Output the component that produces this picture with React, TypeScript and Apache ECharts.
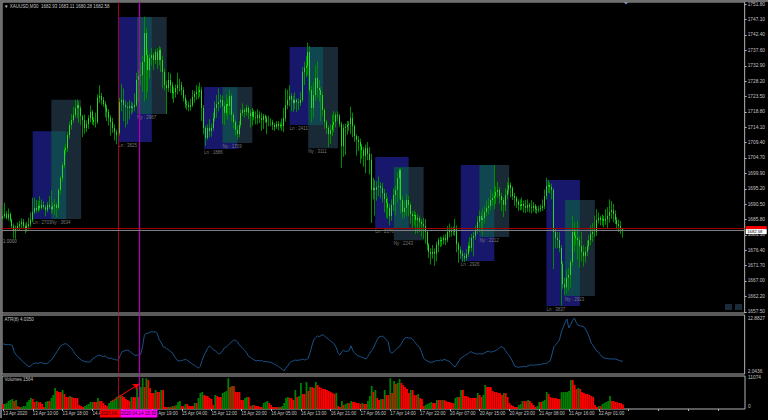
import { useEffect, useRef } from "react";
import * as echarts from "echarts";

const BAR_SLOTS = 399;

// [open, close, low, high], one row per 16 bars of the M30 chart
const candles: number[][] = [
  [1686.0,1686.9,1685.2,1689.9],[1686.9,1687.5,1686.2,1691.0],[1687.5,1686.3,1685.8,1688.4],[1686.3,1687.5,1685.5,1689.2],[1687.5,1685.7,1685.0,1688.0],[1685.7,1683.8,1683.0,1686.1],[1683.8,1682.3,1680.0,1684.6],[1682.3,1683.2,1679.9,1684.0],[1683.2,1683.8,1682.4,1684.9],[1683.8,1684.4,1682.6,1685.4],[1684.4,1685.1,1683.0,1686.2],[1685.1,1683.8,1682.9,1686.0],[1683.8,1682.9,1681.6,1684.6],[1682.9,1683.8,1682.1,1685.1],[1683.8,1684.4,1682.8,1686.4],[1684.4,1685.7,1683.6,1688.0],
  [1685.7,1688.1,1685.0,1692.5],[1688.1,1689.4,1687.5,1692.5],[1689.4,1688.7,1687.9,1691.8],[1688.7,1690.0,1688.0,1691.5],[1690.0,1689.4,1688.6,1693.0],[1689.4,1690.3,1688.8,1692.0],[1690.3,1689.6,1689.0,1691.4],[1689.6,1688.7,1686.8,1690.3],[1688.7,1690.3,1688.0,1691.2],[1690.3,1689.6,1689.0,1693.0],[1689.6,1689.0,1687.6,1694.8],[1689.0,1690.0,1688.0,1691.2],[1690.0,1690.3,1687.2,1692.1],[1690.3,1689.4,1686.5,1691.0],[1689.4,1694.9,1688.9,1695.5],[1694.9,1698.5,1693.6,1699.2],
  [1698.5,1702.5,1697.4,1703.3],[1702.5,1707.1,1701.6,1708.2],[1707.1,1707.7,1705.7,1709.1],[1707.7,1711.7,1706.5,1712.6],[1711.7,1714.8,1710.6,1715.9],[1714.8,1716.3,1713.4,1718.1],[1716.3,1717.9,1715.5,1720.4],[1717.9,1720.0,1717.0,1722.5],[1720.0,1720.9,1716.9,1722.6],[1720.9,1720.0,1715.4,1722.0],[1720.0,1717.5,1714.8,1720.6],[1717.5,1716.3,1711.1,1717.9],[1716.3,1713.9,1712.1,1718.0],[1713.9,1715.1,1712.6,1716.2],[1715.1,1716.9,1713.6,1717.8],[1716.9,1718.8,1715.6,1720.8],
  [1718.8,1716.3,1714.9,1719.4],[1716.3,1715.7,1714.6,1717.2],[1715.7,1715.7,1714.0,1718.6],[1715.7,1723.1,1715.1,1724.2],[1723.1,1723.7,1721.6,1727.0],[1723.7,1722.5,1721.0,1724.6],[1722.5,1721.2,1720.4,1723.4],[1721.2,1720.0,1717.2,1722.1],[1720.0,1718.8,1716.0,1721.0],[1718.8,1717.0,1714.6,1719.6],[1717.0,1715.7,1711.6,1717.8],[1715.7,1713.9,1712.4,1717.0],[1713.9,1712.6,1710.0,1715.0],[1712.6,1711.7,1708.9,1713.4],[1711.7,1712.3,1709.4,1714.6],[1712.3,1721.8,1711.6,1723.1],
  [1721.8,1722.5,1719.0,1727.4],[1722.5,1720.9,1716.0,1726.0],[1720.9,1720.3,1714.0,1722.4],[1720.3,1720.0,1715.0,1721.8],[1720.0,1720.6,1716.5,1722.5],[1720.6,1720.0,1718.0,1722.0],[1720.0,1720.3,1718.6,1721.6],[1720.3,1720.9,1719.0,1724.5],[1720.9,1728.6,1720.3,1730.8],[1728.6,1729.8,1722.0,1731.6],[1729.8,1730.1,1727.0,1734.0],[1730.1,1734.1,1725.0,1736.0],[1734.1,1743.0,1722.0,1748.0],[1743.0,1736.2,1723.0,1744.5],[1736.2,1731.6,1725.0,1738.0],[1731.6,1735.3,1729.0,1736.5],
  [1735.3,1736.2,1733.0,1738.4],[1736.2,1734.7,1731.6,1737.0],[1734.7,1737.2,1733.5,1738.0],[1737.2,1734.7,1732.0,1738.4],[1734.7,1737.8,1733.0,1739.0],[1737.8,1734.7,1731.0,1738.6],[1734.7,1731.0,1726.0,1736.0],[1731.0,1727.0,1725.4,1732.0],[1727.0,1726.1,1718.2,1728.4],[1726.1,1728.6,1725.0,1731.0],[1728.6,1727.0,1724.6,1730.6],[1727.0,1724.6,1722.8,1728.0],[1724.6,1724.9,1721.6,1726.4],[1724.9,1726.1,1723.2,1727.2],[1726.1,1727.0,1724.2,1730.8],[1727.0,1727.0,1725.0,1729.0],
  [1727.0,1725.5,1724.0,1728.0],[1725.5,1723.1,1722.0,1726.4],[1723.1,1721.2,1720.0,1724.0],[1721.2,1720.9,1719.4,1722.5],[1720.9,1720.3,1719.0,1722.0],[1720.3,1720.9,1719.2,1722.8],[1720.9,1723.4,1720.3,1725.5],[1723.4,1724.3,1721.6,1725.2],[1724.3,1724.9,1722.5,1727.0],[1724.9,1724.9,1722.8,1726.6],[1724.9,1725.5,1723.4,1727.8],[1725.5,1720.0,1716.0,1726.4],[1720.0,1713.9,1712.0,1720.9],[1713.9,1710.8,1708.4,1714.6],[1710.8,1713.9,1710.2,1715.0],[1713.9,1712.9,1711.0,1716.6],
  [1712.9,1713.9,1711.2,1715.2],[1713.9,1716.9,1713.0,1718.6],[1716.9,1720.0,1716.0,1722.0],[1720.0,1721.2,1717.0,1724.0],[1721.2,1721.8,1719.0,1726.0],[1721.8,1722.5,1720.0,1724.2],[1722.5,1720.6,1715.0,1723.8],[1720.6,1718.5,1714.8,1722.0],[1718.5,1721.2,1717.6,1724.0],[1721.2,1720.6,1716.4,1722.8],[1720.6,1723.7,1718.0,1725.6],[1723.7,1717.9,1715.8,1724.4],[1717.9,1715.7,1713.8,1718.6],[1715.7,1713.3,1711.6,1716.4],[1713.3,1712.0,1710.4,1714.6],[1712.0,1714.8,1711.0,1716.0],
  [1714.8,1718.5,1714.0,1719.6],[1718.5,1719.4,1717.6,1721.4],[1719.4,1718.8,1717.0,1720.0],[1718.8,1720.0,1717.6,1721.0],[1720.0,1718.5,1716.6,1720.6],[1718.5,1717.5,1714.0,1719.6],[1717.5,1718.8,1714.6,1720.0],[1718.8,1717.2,1716.2,1719.4],[1717.2,1716.9,1715.0,1719.0],[1716.9,1717.9,1715.0,1719.6],[1717.9,1716.9,1715.4,1719.0],[1716.9,1716.3,1713.0,1718.6],[1716.3,1717.5,1713.6,1718.2],[1717.5,1716.9,1715.4,1718.0],[1716.9,1715.7,1712.0,1717.6],[1715.7,1715.7,1714.4,1717.6],
  [1715.7,1715.7,1714.4,1716.8],[1715.7,1714.8,1713.2,1716.4],[1714.8,1714.2,1713.0,1715.4],[1714.2,1715.1,1713.6,1716.0],[1715.1,1714.5,1713.2,1716.0],[1714.5,1714.8,1713.8,1715.6],[1714.8,1714.5,1713.0,1716.8],[1714.5,1716.9,1712.6,1720.0],[1716.9,1720.9,1715.8,1726.0],[1720.9,1722.5,1719.6,1725.6],[1722.5,1723.7,1720.6,1727.0],[1723.7,1722.5,1719.0,1724.6],[1722.5,1721.5,1718.8,1723.8],[1721.5,1722.5,1719.6,1724.8],[1722.5,1721.8,1718.8,1723.0],[1721.8,1721.5,1719.4,1723.0],
  [1721.5,1722.5,1720.6,1725.0],[1722.5,1731.0,1721.8,1732.6],[1731.0,1732.3,1727.0,1734.2],[1732.3,1732.9,1729.4,1736.0],[1732.9,1737.2,1730.0,1740.0],[1737.2,1725.5,1724.6,1739.0],[1725.5,1720.0,1715.6,1726.8],[1720.0,1724.0,1717.0,1728.0],[1724.0,1729.2,1722.2,1733.0],[1729.2,1726.1,1723.2,1734.4],[1726.1,1725.5,1722.0,1728.6],[1725.5,1724.0,1716.0,1726.4],[1724.0,1719.4,1717.6,1724.8],[1719.4,1715.7,1713.6,1720.0],[1715.7,1713.9,1712.0,1716.4],[1713.9,1712.0,1708.0,1714.6],
  [1712.0,1713.3,1709.0,1715.0],[1713.3,1714.8,1711.4,1718.0],[1714.8,1715.7,1712.6,1719.0],[1715.7,1717.9,1714.0,1718.6],[1717.9,1717.5,1716.0,1719.0],[1717.5,1715.1,1714.2,1718.2],[1715.1,1708.3,1701.6,1715.8],[1708.3,1713.9,1705.0,1715.0],[1713.9,1714.2,1705.6,1715.2],[1714.2,1714.8,1711.8,1716.0],[1714.8,1715.1,1713.0,1716.0],[1715.1,1716.9,1712.0,1720.4],[1716.9,1714.5,1711.0,1718.6],[1714.5,1711.4,1709.6,1715.0],[1711.4,1710.2,1705.4,1712.0],[1710.2,1709.6,1706.8,1711.4],
  [1709.6,1708.3,1703.0,1710.6],[1708.3,1707.1,1704.4,1709.0],[1707.1,1705.3,1702.0,1708.0],[1705.3,1707.7,1700.0,1708.8],[1707.7,1705.9,1704.0,1709.6],[1705.9,1704.1,1699.6,1708.0],[1704.1,1694.9,1684.8,1706.0],[1694.9,1695.5,1692.0,1698.6],[1695.5,1694.9,1687.0,1698.0],[1694.9,1695.8,1691.6,1697.6],[1695.8,1696.1,1693.0,1699.0],[1696.1,1695.5,1692.4,1697.2],[1695.5,1693.9,1691.0,1697.0],[1693.9,1692.1,1688.0,1695.2],[1692.1,1690.9,1686.4,1694.0],[1690.9,1689.4,1686.0,1692.6],
  [1689.4,1686.9,1684.0,1690.6],[1686.9,1690.3,1685.4,1692.0],[1690.3,1693.3,1688.4,1695.4],[1693.3,1694.9,1687.0,1696.2],[1694.9,1698.5,1691.0,1700.4],[1698.5,1701.0,1692.0,1701.6],[1701.0,1691.8,1687.6,1701.6],[1691.8,1688.1,1686.0,1693.0],[1688.1,1689.4,1686.4,1691.6],[1689.4,1691.8,1687.0,1693.6],[1691.8,1690.3,1686.8,1693.0],[1690.3,1687.5,1684.6,1691.0],[1687.5,1686.9,1683.0,1688.4],[1686.9,1687.2,1684.0,1688.6],[1687.2,1685.7,1681.4,1688.0],[1685.7,1686.3,1681.6,1687.4],
  [1686.3,1685.1,1682.0,1687.0],[1685.1,1684.4,1680.6,1686.0],[1684.4,1683.8,1679.8,1686.4],[1683.8,1682.0,1678.4,1686.0],[1682.0,1678.0,1676.4,1682.6],[1678.0,1675.9,1674.0,1678.6],[1675.9,1675.3,1672.0,1677.0],[1675.3,1675.9,1673.8,1678.0],[1675.9,1675.3,1671.6,1677.0],[1675.3,1678.0,1673.0,1679.0],[1678.0,1679.5,1675.8,1680.2],[1679.5,1679.2,1677.4,1680.6],[1679.2,1679.5,1677.6,1680.4],[1679.5,1680.2,1678.2,1681.0],[1680.2,1679.5,1678.0,1681.4],[1679.5,1682.0,1678.8,1683.8],
  [1682.0,1682.6,1680.4,1684.6],[1682.6,1682.0,1680.6,1683.6],[1682.0,1682.0,1681.0,1683.6],[1682.0,1683.2,1680.8,1686.0],[1683.2,1678.3,1675.8,1684.0],[1678.3,1676.5,1672.6,1679.0],[1676.5,1675.3,1673.8,1677.6],[1675.3,1674.6,1672.8,1676.4],[1674.6,1674.0,1672.8,1675.6],[1674.0,1675.3,1673.2,1676.8],[1675.3,1677.7,1674.4,1678.8],[1677.7,1677.1,1676.0,1680.4],[1677.1,1680.2,1676.0,1681.4],[1680.2,1680.8,1674.5,1682.0],[1680.8,1682.6,1679.6,1684.0],[1682.6,1685.1,1681.4,1686.8],
  [1685.1,1686.9,1682.0,1688.6],[1686.9,1685.7,1682.6,1688.0],[1685.7,1686.3,1681.0,1689.2],[1686.3,1688.1,1684.6,1690.0],[1688.1,1689.4,1686.8,1691.6],[1689.4,1690.0,1687.4,1692.4],[1690.0,1691.8,1688.6,1695.0],[1691.8,1692.4,1690.0,1694.0],[1692.4,1693.0,1689.0,1702.5],[1693.0,1694.3,1690.6,1696.0],[1694.3,1694.9,1692.4,1697.4],[1694.9,1693.0,1690.6,1695.8],[1693.0,1691.8,1688.4,1694.0],[1691.8,1690.3,1686.6,1692.6],[1690.3,1693.3,1688.4,1695.4],[1693.3,1694.9,1692.0,1697.2],
  [1694.9,1696.4,1693.8,1698.8],[1696.4,1695.5,1692.6,1697.2],[1695.5,1693.0,1691.8,1696.0],[1693.0,1692.4,1690.0,1694.0],[1692.4,1691.2,1689.4,1693.0],[1691.2,1690.3,1688.4,1692.0],[1690.3,1690.0,1688.6,1692.0],[1690.0,1690.6,1688.8,1692.6],[1690.6,1690.0,1688.0,1691.6],[1690.0,1689.4,1687.8,1691.8],[1689.4,1690.3,1688.2,1692.0],[1690.3,1689.6,1688.0,1691.0],[1689.6,1689.4,1687.6,1691.8],[1689.4,1690.0,1688.2,1691.2],[1690.0,1689.0,1687.8,1690.6],[1689.0,1688.7,1687.6,1690.0],
  [1688.7,1689.0,1688.0,1690.0],[1689.0,1689.4,1688.2,1690.4],[1689.4,1690.0,1688.4,1692.0],[1690.0,1693.0,1689.0,1695.0],[1693.0,1696.1,1692.0,1698.6],[1696.1,1696.4,1694.0,1697.9],[1696.4,1695.8,1693.8,1697.2],[1695.8,1694.9,1692.0,1696.8],[1694.9,1682.0,1670.6,1695.4],[1682.0,1680.2,1677.0,1683.2],[1680.2,1679.5,1677.0,1682.0],[1679.5,1677.1,1675.8,1682.0],[1677.1,1672.2,1659.4,1678.0],[1672.2,1666.0,1664.6,1673.0],[1666.0,1665.0,1662.6,1668.0],[1665.0,1668.0,1663.0,1670.4],
  [1668.0,1668.8,1664.0,1671.0],[1668.8,1672.8,1665.0,1673.6],[1672.8,1682.0,1671.6,1687.0],[1682.0,1680.8,1676.0,1685.0],[1680.8,1680.2,1678.0,1682.6],[1680.2,1679.5,1673.6,1685.4],[1679.5,1677.7,1671.0,1680.6],[1677.7,1675.9,1673.0,1682.0],[1675.9,1674.6,1671.4,1678.0],[1674.6,1675.9,1672.6,1677.4],[1675.9,1677.7,1674.6,1679.4],[1677.7,1679.5,1676.6,1681.0],[1679.5,1681.4,1678.0,1684.0],[1681.4,1682.0,1679.0,1684.8],[1682.0,1682.0,1680.4,1687.0],[1682.0,1685.7,1680.8,1689.0],
  [1685.7,1686.3,1684.6,1688.0],[1686.3,1685.7,1684.0,1687.0],[1685.7,1686.0,1684.0,1687.4],[1686.0,1685.4,1683.4,1687.0],[1685.4,1686.0,1684.2,1689.0],[1686.0,1686.9,1683.0,1689.6],[1686.9,1688.1,1684.8,1692.0],[1688.1,1688.7,1686.0,1691.5],[1688.7,1687.5,1685.0,1690.6],[1687.5,1685.7,1684.4,1688.6],[1685.7,1684.4,1682.8,1686.6],[1684.4,1683.8,1682.0,1685.8],[1683.8,1682.9,1681.4,1685.4],[1682.93,1682.58,1680.28,1683.11],
];

const atrValues = [
  7.6,7.5,7.4,7.5,7.4,7.3,6.0,5.4,5.0,4.7,4.2,3.9,3.5,3.2,2.9,3.1,
  3.5,3.6,3.7,3.6,3.8,3.7,3.6,3.5,3.6,4.0,4.3,4.8,5.4,6.0,6.6,7.2,
  7.4,7.6,7.6,7.3,7.0,6.6,6.0,5.4,5.0,4.7,4.3,4.1,4.0,3.9,3.9,3.9,
  4.5,4.7,5.0,5.2,5.3,5.1,5.0,5.1,4.8,4.6,4.7,4.5,4.4,4.3,4.3,5.2,
  6.0,6.1,6.3,6.3,6.1,5.8,5.5,5.2,5.3,5.3,5.4,7.0,9.4,9.8,9.7,10.0,
  10.1,10.0,10.1,9.6,8.4,7.9,7.0,6.9,6.6,6.4,6.0,5.8,5.1,4.6,4.1,4.1,
  4.2,4.3,4.4,4.3,3.9,3.7,3.4,3.2,2.9,2.6,3.0,4.2,5.2,5.9,6.7,7.2,
  6.8,6.4,6.2,5.9,5.5,5.7,6.2,6.8,7.0,7.3,7.7,8.0,8.4,8.3,8.0,7.4,
  7.0,6.6,6.2,5.7,5.0,4.9,4.5,4.3,4.1,4.2,4.1,4.2,4.0,4.0,3.9,3.9,
  3.8,3.6,3.4,3.2,3.0,2.7,2.4,2.04,2.6,3.1,3.7,4.0,4.1,4.3,4.2,4.3,
  4.3,4.5,4.3,4.4,4.6,5.8,7.2,8.4,8.9,9.2,9.1,9.3,9.5,9.1,8.8,8.5,
  8.2,7.9,7.6,6.9,5.8,5.3,5.9,6.3,6.0,6.1,6.2,7.2,6.2,5.8,5.3,5.1,
  5.0,4.8,4.7,4.5,5.0,5.6,6.2,6.7,7.6,8.4,9.0,9.1,9.2,8.8,8.4,8.0,
  6.0,5.7,6.0,6.4,6.8,7.0,7.6,8.3,8.8,8.9,8.8,8.8,8.6,8.1,7.6,7.2,
  6.8,5.8,4.7,4.3,4.1,3.9,3.8,3.9,4.0,4.2,4.1,4.3,4.2,4.4,4.3,4.1,
  4.0,3.5,3.1,2.9,3.5,4.1,4.7,4.9,5.2,5.4,5.6,6.0,5.9,5.7,5.6,5.5,
  5.6,5.5,5.6,5.8,6.0,6.1,5.9,6.0,6.1,6.3,6.5,6.9,7.0,6.8,6.2,5.6,
  5.2,4.6,3.8,3.0,2.9,2.8,2.9,2.9,3.0,2.9,3.1,3.2,3.3,3.2,3.3,3.3,
  3.3,3.4,3.5,3.6,3.6,3.9,4.1,5.5,7.0,7.4,7.9,8.4,10.0,10.9,12.0,12.7,
  10.9,11.5,12.4,12.88,12.0,11.4,11.3,11.2,11.1,10.6,9.9,9.0,7.8,7.3,6.7,6.1,
  5.9,5.4,4.9,4.7,4.6,4.6,4.5,4.5,4.5,4.5,4.4,4.2,4.1,4.035,
];

const volumeValues = [
  1790,1820,2140,2860,3210,3570,2860,3210,1070,710,740,1070,1100,2500,3210,3930,
  3570,2500,2860,2500,2480,1790,710,2500,2860,2840,3930,5000,7500,6430,6070,6040,
  6780,5360,4280,4260,4640,4280,3930,3910,3900,1430,1070,710,1070,1430,1790,2500,
  2520,2500,2480,3930,2860,2840,2140,1430,1070,2140,2860,3210,3570,4280,4640,5000,
  4640,4280,3570,3210,2860,4280,4260,4240,7500,4280,7850,11074,7850,11000,10350,7500,
  5710,5690,6780,6070,6050,6780,6760,710,700,720,690,1070,1050,1430,2500,2860,
  1070,1050,1790,1770,1070,1050,1040,2140,2120,3930,5710,6070,5000,4640,4620,3930,
  3570,1430,5000,4640,4280,4260,5710,6070,6430,11000,7850,8210,8190,6070,6050,6030,
  3210,3190,3930,4280,4260,1070,1430,1410,1070,1050,710,700,2140,2500,2860,2140,
  1430,710,700,690,710,700,1070,2140,3930,4280,3930,3910,3210,6780,4280,4640,
  9280,5360,5340,9640,6430,7850,7830,7500,9640,8570,7850,7500,7140,7120,6780,6430,
  6070,5710,5360,5710,1070,710,2860,1430,1790,2140,2120,2860,2500,2480,2140,2120,
  1790,2140,1790,1770,2860,4640,8210,6070,6780,3930,3210,3570,3550,6780,5000,4980,
  11000,5710,10000,8930,9280,10710,9280,8570,7850,7140,5710,6780,6760,5000,4980,5360,
  3930,3570,1070,1430,1790,2140,2500,2140,2120,3210,3190,3170,3210,3190,2860,2500,
  2480,2140,2120,3930,4280,4260,6780,6760,4640,4620,4280,3930,3910,3900,3890,5710,
  5000,4280,5000,8570,7850,7830,7810,6430,6070,6050,5710,5690,5000,5710,5690,4280,
  2140,1430,1070,710,700,1430,1790,2860,2840,2820,3210,2860,2140,1430,710,1070,
  2500,2480,2860,3210,6070,5360,4280,3930,3910,3890,3570,3550,6010,6030,6050,6070,
  6430,10350,10330,8570,7140,7500,7140,6070,5710,5360,5340,5000,4640,4280,1430,710,
  1070,1050,1790,2140,2500,2860,4640,2860,2840,2500,2480,2140,2120,1564,
];

const priceTicks = [1751.8,1747.1,1742.4,1737.6,1732.9,1728.2,1723.5,1718.8,1714.1,1709.4,1704.7,1699.9,1695.2,1690.5,1685.8,1681.1,1676.4,1671.7,1667.0,1662.2,1657.5];
const atrTicks = [2.0436, 12.8827];
const volumeTicks = [0, 11074];
// the labels at 14 Apr are hidden by the two time tags in the reference
const timeLabels = [
  "13 Apr 2020","13 Apr 10:00","13 Apr 18:00","14 A","","","15 Apr 04:00",
  "15 Apr 12:00","15 Apr 20:00","16 Apr 05:00","16 Apr 13:00","16 Apr 21:00","17 Apr 06:00","17 Apr 14:00",
  "17 Apr 22:00","20 Apr 07:00","20 Apr 15:00","20 Apr 23:00","21 Apr 08:00","21 Apr 16:00","22 Apr 01:00",
];

// [first bar, last bar, top price, bottom price, caption]
const blueZones: [number, number, number, number, string][] = [
  [16,34,1712.9,1686.0,"Ln : 2703"],[62,80,1747.9,1709.6,"Ln : 3825"],[108,126,1726.4,1707.4,"Ln : 1886"],
  [154,172,1738.7,1714.8,"Ln : 2411"],[200,218,1705.0,1683.2,"Ln : 2176"],[246,264,1702.5,1673.1,"Ln : 2926"],
  [292,310,1697.9,1659.3,"Ln : 3837"],
];
const tealZones: [number, number, number, number, string][] = [
  [26,42,1722.5,1686.0,"Ny : 3634"],[72,88,1747.9,1718.2,"Ny : 2967"],[118,134,1726.4,1709.3,"Ny : 1709"],
  [164,180,1738.7,1707.7,"Ny : 3111"],[210,226,1701.9,1679.5,"Ny : 2243"],[256,272,1702.5,1680.5,"Ny : 2212"],
  [302,318,1691.8,1662.4,"Ny : 2923"],
];

const redLineBar = 62;
const magentaLineBar = 73;
// [bar, text, fill, width left of the bar, width right of the bar]
const timeTags: [number, string, string | null, number, number][] = [
  [redLineBar, "2020.04.", "#ff0000", 18.5, 2],
  [magentaLineBar, "2020.04.14 15:30", "#ff00ff", 18.5, 18.5],
  [82, "Apr 19:00", null, -2, 26],
];
const bidPrice = 1682.58;
const alertPrice = 1683.1;
const arrowFrom = { bar: 58, volume: 2500 };
const arrowTo = { bar: 73, volume: 8925 };

const FONT = "Liberation Sans";
const axisText = { color: "#c4c4c4", fontFamily: FONT, fontSize: 4.8 };
const titleText = { color: "#c4c4c4", fontFamily: FONT, fontSize: 4.5, fontWeight: "normal" };

function vLines(extra: object[] = []) {
  return {
    silent: true,
    symbol: "none",
    animation: false,
    label: { show: false },
    data: [
      { xAxis: redLineBar, lineStyle: { color: "#a50026", width: 1, type: "solid" } },
      { xAxis: magentaLineBar, lineStyle: { color: "#b000b0", width: 1.3, type: "solid" } },
      ...extra,
    ],
  };
}

function buildZones() {
  const overlaps = blueZones.map((b, i) => {
    const t = tealZones[i];
    return [t[0], b[1], Math.min(b[2], t[2]), Math.max(b[3], t[3])];
  });
  return [
    ...blueZones.map((z) => ({ z, fill: "#17176b" })),
    ...tealZones.map((z) => ({ z, fill: "#1a2936" })),
    ...overlaps.map((z) => ({ z, fill: "#0f4650" })),
  ];
}

function makeOption() {
  const categories = Array.from({ length: BAR_SLOTS }, (_, i) => String(i));
  const zones = buildZones();
  const yAxisBase = {
    position: "right" as const,
    scale: true,
    splitLine: { show: false },
    axisLine: { show: false },
    axisTick: { show: true, length: 2, lineStyle: { color: "#b0b0b0" } },
  };
  const hiddenX = { type: "category" as const, data: categories, axisLine: { show: false }, axisTick: { show: false }, axisLabel: { show: false } };
  const gridBase = { left: 2, width: 743, show: true, borderColor: "#b4b4b4", borderWidth: 1, backgroundColor: "#000" };
  return {
    animation: false,
    backgroundColor: "#000",
    title: [
      { text: "▼ XAUUSD,M30  1682.93 1683.11 1680.28 1682.58", left: 4, top: 3.5, padding: 0, textStyle: titleText },
      { text: "ATR(8) 4.0350", left: 4.5, top: 316.5, padding: 0, textStyle: titleText },
      { text: "Volumes 1564", left: 4.5, top: 377, padding: 0, textStyle: titleText },
      { text: "1.0000", left: 3, top: 238.5, padding: 0, textStyle: { ...titleText, color: "#8a8a8a" } },
    ],
    grid: [
      { ...gridBase, top: 2, height: 311 },
      { ...gridBase, top: 315, height: 59 },
      { ...gridBase, top: 376, height: 33 },
    ],
    xAxis: [
      { ...hiddenX, gridIndex: 0 },
      { ...hiddenX, gridIndex: 1 },
      {
        type: "category",
        gridIndex: 2,
        data: categories,
        axisLine: { show: false },
        axisTick: { show: true, interval: 15, length: 2, alignWithLabel: true, lineStyle: { color: "#b0b0b0" } },
        axisLabel: {
          ...axisText,
          fontSize: 4.5,
          interval: 15,
          align: "left",
          margin: 2,
          formatter: (_: string, index: number) => timeLabels[index / 16] ?? "",
        },
      },
    ],
    yAxis: [
      {
        ...yAxisBase,
        gridIndex: 0,
        min: 1657.17,
        max: 1752.49,
        axisTick: { ...yAxisBase.axisTick, customValues: priceTicks },
        axisLabel: { ...axisText, margin: 3, customValues: priceTicks, formatter: (v: number) => v.toFixed(2) },
      },
      {
        ...yAxisBase,
        gridIndex: 1,
        min: 1.43,
        max: 13.5,
        axisTick: { show: false },
        axisLabel: { ...axisText, margin: 3, customValues: atrTicks, formatter: (v: number) => v.toFixed(4) },
      },
      {
        ...yAxisBase,
        gridIndex: 2,
        min: 0,
        max: 11781,
        axisTick: { show: false },
        axisLabel: { ...axisText, margin: 3, customValues: volumeTicks, verticalAlignMinLabel: "bottom", formatter: (v: number) => String(v) },
      },
    ],
    series: [
      {
        type: "custom",
        name: "zones",
        xAxisIndex: 0,
        yAxisIndex: 0,
        z: 1,
        silent: true,
        data: zones.map(({ z }) => [z[0], z[2]]),
        renderItem: (params: any, api: any) => {
          const { z, fill } = zones[params.dataIndex];
          const p0 = api.coord([z[0], z[2]]);
          const p1 = api.coord([z[1], z[3]]);
          const children: any[] = [
            { type: "rect", shape: { x: p0[0], y: p0[1], width: p1[0] - p0[0], height: p1[1] - p0[1] }, style: { fill } },
          ];
          if (typeof z[4] === "string") {
            children.push({
              type: "text",
              style: { text: z[4], x: p0[0], y: p1[1] + 1, fill: "#777777", font: `4.5px "${FONT}"`, textAlign: "left", textVerticalAlign: "top" },
            });
          }
          return { type: "group", children };
        },
      },
      {
        type: "candlestick",
        name: "XAUUSD wicks",
        xAxisIndex: 0,
        yAxisIndex: 0,
        z: 2,
        barWidth: 1,
        itemStyle: { color: "#008c00", color0: "#008c00", borderColor: "#008c00", borderColor0: "#008c00", borderWidth: 1 },
        data: candles,
      },
      {
        type: "candlestick",
        name: "XAUUSD bodies",
        xAxisIndex: 0,
        yAxisIndex: 0,
        z: 3,
        barWidth: 1.2,
        itemStyle: { color: "#28d828", color0: "#28d828", borderColor: "#28d828", borderColor0: "#28d828", borderWidth: 1 },
        data: candles.map(([o, c]) => [o, c, Math.min(o, c), Math.max(o, c)]),
        markLine: vLines([
          { yAxis: alertPrice, lineStyle: { color: "#a00000", width: 1, type: "solid" } },
          { yAxis: bidPrice, lineStyle: { color: "#808080", width: 1, type: "solid" } },
        ]),
      },
      {
        type: "custom",
        name: "price tag",
        xAxisIndex: 0,
        yAxisIndex: 0,
        z: 6,
        clip: false,
        silent: true,
        data: [[BAR_SLOTS - 1, bidPrice]],
        renderItem: (_: any, api: any) => {
          const p = api.coord([BAR_SLOTS - 1, bidPrice]);
          const x = p[0] + 2;
          return {
            type: "group",
            children: [
              { type: "rect", shape: { x, y: p[1] - 4, width: 21, height: 3 }, style: { fill: "#ff0000" } },
              { type: "rect", shape: { x, y: p[1] - 1, width: 21, height: 5 }, style: { fill: "#ffffff" } },
              { type: "text", style: { text: bidPrice.toFixed(2), x: x + 1.5, y: p[1] + 1, fill: "#000", font: `4.2px "${FONT}"`, textVerticalAlign: "middle" } },
            ],
          };
        },
      },
      {
        type: "line",
        name: "ATR(8)",
        xAxisIndex: 1,
        yAxisIndex: 1,
        showSymbol: false,
        lineStyle: { color: "#1c5288", width: 1 },
        data: atrValues,
        markLine: vLines(),
      },
      {
        type: "bar",
        name: "Volumes",
        xAxisIndex: 2,
        yAxisIndex: 2,
        barWidth: 1.8,
        itemStyle: {
          color: (p: any) => (p.dataIndex > 0 && volumeValues[p.dataIndex] > volumeValues[p.dataIndex - 1] ? "#008000" : "#ff0000"),
        },
        data: volumeValues,
        markLine: {
          ...vLines(),
          data: [
            ...vLines().data,
            [
              { xAxis: arrowFrom.bar, yAxis: arrowFrom.volume, symbol: "none", lineStyle: { color: "#ff0000", width: 1, type: "solid" } },
              { xAxis: arrowTo.bar, yAxis: arrowTo.volume, symbol: "arrow", symbolSize: 6 },
            ],
          ],
        },
      },
      {
        type: "custom",
        name: "time tags",
        xAxisIndex: 2,
        yAxisIndex: 2,
        z: 6,
        clip: false,
        silent: true,
        data: timeTags.map((t) => [t[0], 0]),
        renderItem: (params: any, api: any) => {
          const [bar, text, fill, before, after] = timeTags[params.dataIndex];
          const p = api.coord([bar, 0]);
          const children: any[] = [];
          if (fill) {
            children.push({ type: "rect", shape: { x: p[0] - before, y: p[1] + 0.5, width: before + after, height: 8 }, style: { fill } });
          }
          children.push({
            type: "text",
            style: { text, x: p[0] - before + 0.5, y: p[1] + 4.5, fill: fill ? "#3a0000" : "#c4c4c4", font: `4.5px "${FONT}"`, textAlign: "left", textVerticalAlign: "middle" },
          });
          return { type: "group", children };
        },
      },
    ],
    graphic: [
      { type: "rect", shape: { x: 0, y: 0, width: 768, height: 2 }, style: { fill: "#6e6e6e" } },
      { type: "rect", shape: { x: 0, y: 0, width: 2, height: 418 }, style: { fill: "#6e6e6e" } },
      { type: "polygon", shape: { points: [[623.5, 2], [628.5, 2], [626, 4.5]] }, style: { fill: "#7c93ad" } },
      { type: "rect", shape: { x: 725, y: 304, width: 7, height: 6 }, style: { fill: "#1a2a38" } },
      { type: "rect", shape: { x: 735, y: 304, width: 7, height: 6 }, style: { fill: "#1a2a38" } },
    ],
  };
}

export default function App() {
  const chartRef = useRef<HTMLDivElement | null>(null);

  useEffect(() => {
    if (!chartRef.current) {
      return;
    }
    const chart = echarts.init(chartRef.current, undefined, { renderer: "svg" });
    chart.setOption(makeOption() as any);
    return () => {
      chart.dispose();
    };
  }, []);

  return <div ref={chartRef} style={{ position: "fixed", left: 0, top: 0, width: 768, height: 420 }} />;
}
